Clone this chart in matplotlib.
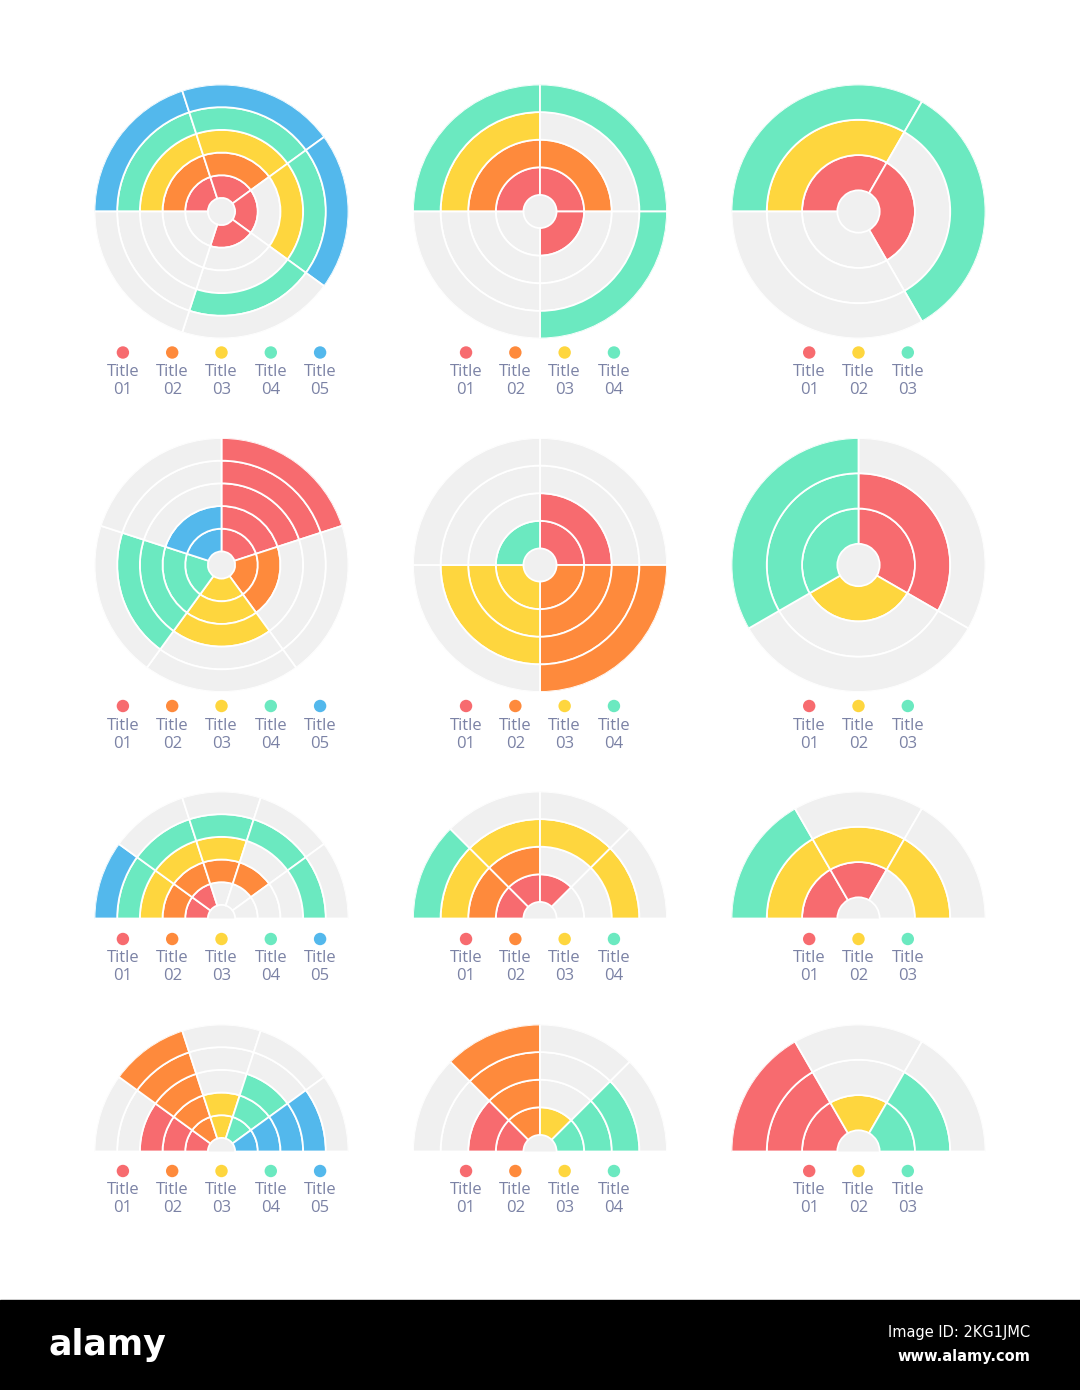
import numpy as np
import matplotlib
matplotlib.use("Agg")
import matplotlib.pyplot as plt
from matplotlib.patches import Rectangle

# ---------------- data ----------------
RED, ORANGE, YELLOW, GREEN, BLUE = "#f76b6f", "#fe8a3c", "#fed63e", "#6be9c0", "#53b8ec"
GRAY = "#f0f0f0"
TEXT = "#7b82a5"

palette5 = [RED, ORANGE, YELLOW, GREEN, BLUE]
palette4 = [RED, ORANGE, YELLOW, GREEN]
palette3 = [RED, YELLOW, GREEN]

labels5 = ["01", "02", "03", "04", "05"]
labels4 = ["01", "02", "03", "04"]
labels3 = ["01", "02", "03"]

# ring charts: value = number of sectors filled in each ring (inner -> outer)
chart1_ring = [4, 2, 3, 4, 3]
chart2_ring = [3, 2, 1, 3]
chart3_ring = [2, 1, 2]
# rose charts: value = number of rings filled in each sector
chart4_rose = [5, 2, 3, 4, 2]
chart5_rose = [2, 4, 3, 1]
chart6_rose = [2, 1, 3]
# half ring charts
chart7_ring = [2, 4, 3, 5, 1]
chart8_ring = [3, 2, 4, 1]
chart9_ring = [2, 3, 1]
# half rose charts
chart10_rose = [3, 5, 2, 3, 4]
chart11_rose = [2, 4, 1, 3]
chart12_rose = [3, 1, 2]

W, H = 1080, 1390
HOLE = 0.6
LW = 1.3

fig = plt.figure(figsize=(W / 100, H / 100), dpi=100)
fig.patch.set_facecolor("white")

overlay = fig.add_axes([0, 0, 1, 1])
overlay.set_xlim(0, W)
overlay.set_ylim(H, 0)
overlay.axis("off")


def polar_axes(cx, cy, R):
    ax = fig.add_axes([(cx - R) / W, 1 - (cy + R) / H, 2 * R / W, 2 * R / H],
                      projection="polar")
    ax.set_theta_zero_location("N")
    ax.set_theta_direction(-1)
    ax.patch.set_visible(False)
    ax.axis("off")
    return ax


def draw_chart(cx, cy, values, palette, kind, span):
    n = len(values)
    ax = polar_axes(cx, cy, 127)
    ax.set_ylim(0, n + HOLE)
    if span == 360:
        start = 270 if kind == "ring" else 0
    else:
        start = 270
    sw = span / n
    # hole
    ax.bar(np.deg2rad(start + span / 2), HOLE, width=np.deg2rad(span), bottom=0,
           color=GRAY, edgecolor="none", linewidth=0)
    for i in range(n):          # ring index
        for j in range(n):      # sector index
            if kind == "ring":
                filled = j < values[i]
                col = palette[i] if filled else GRAY
            else:
                filled = i < values[j]
                col = palette[j] if filled else GRAY
            th = np.deg2rad(start + (j + 0.5) * sw)
            ax.bar(th, 1, width=np.deg2rad(sw), bottom=HOLE + i, color=col,
                   edgecolor="white", linewidth=LW)
    return ax


def legend(cx, ydot, labels, palette):
    n = len(labels)
    step = 49.3
    for k, (lab, col) in enumerate(zip(labels, palette)):
        x = cx + (k - (n - 1) / 2) * step
        overlay.scatter([x], [ydot], s=80, color=col, edgecolor="none", zorder=3)
        overlay.text(x, ydot + 19.5, "Title", ha="center", va="center",
                     fontsize=12, color=TEXT, family="Open Sans")
        overlay.text(x, ydot + 37.5, lab, ha="center", va="center",
                     fontsize=12, color=TEXT, family="Open Sans")


cols = [221.5, 540, 858.5]

# Row 1
draw_chart(cols[0], 211.5, chart1_ring, palette5, "ring", 360)
draw_chart(cols[1], 211.5, chart2_ring, palette4, "ring", 360)
draw_chart(cols[2], 211.5, chart3_ring, palette3, "ring", 360)
legend(cols[0], 352.5, labels5, palette5)
legend(cols[1], 352.5, labels4, palette4)
legend(cols[2], 352.5, labels3, palette3)

# Row 2
draw_chart(cols[0], 565, chart4_rose, palette5, "rose", 360)
draw_chart(cols[1], 565, chart5_rose, palette4, "rose", 360)
draw_chart(cols[2], 565, chart6_rose, palette3, "rose", 360)
legend(cols[0], 706, labels5, palette5)
legend(cols[1], 706, labels4, palette4)
legend(cols[2], 706, labels3, palette3)

# Row 3
draw_chart(cols[0], 918.5, chart7_ring, palette5, "ring", 180)
draw_chart(cols[1], 918.5, chart8_ring, palette4, "ring", 180)
draw_chart(cols[2], 918.5, chart9_ring, palette3, "ring", 180)
legend(cols[0], 939, labels5, palette5)
legend(cols[1], 939, labels4, palette4)
legend(cols[2], 939, labels3, palette3)

# Row 4
draw_chart(cols[0], 1151.5, chart10_rose, palette5, "rose", 180)
draw_chart(cols[1], 1151.5, chart11_rose, palette4, "rose", 180)
draw_chart(cols[2], 1151.5, chart12_rose, palette3, "rose", 180)
legend(cols[0], 1171, labels5, palette5)
legend(cols[1], 1171, labels4, palette4)
legend(cols[2], 1171, labels3, palette3)

# bottom banner
overlay.add_patch(Rectangle((0, 1300), W, 90, color="black", zorder=1))
overlay.text(48, 1345, "alamy", ha="left", va="center", fontsize=25,
             fontweight="bold", color="white", family="DejaVu Sans", zorder=2)
overlay.text(1030, 1332, "Image ID: 2KG1JMC", ha="right", va="center",
             fontsize=10.5, color="white", family="DejaVu Sans", zorder=2)
overlay.text(1030, 1357, "www.alamy.com", ha="right", va="center",
             fontsize=10.5, fontweight="bold", color="white", family="DejaVu Sans", zorder=2)

fig.savefig("out.png", dpi=100, facecolor="white")
